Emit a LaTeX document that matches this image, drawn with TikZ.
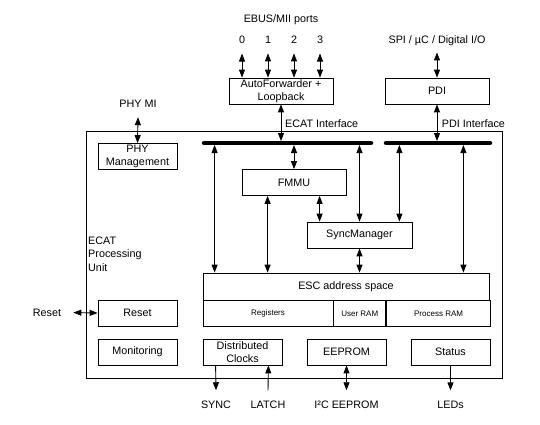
\documentclass[tikz,border=0pt]{standalone}
\usepackage{fontspec}
\setmainfont{Liberation Sans}
\usetikzlibrary{arrows.meta}
\tikzset{
  blk/.style={draw, line width=0.8pt, align=center, inner sep=0pt, font=\fontsize{10.8}{13.3}\selectfont},
  unit/.style={blk, minimum width=79pt, minimum height=26pt},
  wide/.style={blk, minimum width=104pt, minimum height=26pt},
  memblk/.style={blk, minimum height=26pt, font=\fontsize{8}{9.6}\selectfont},
  lab/.style={font=\fontsize{10.8}{13.3}\selectfont, inner sep=1pt},
  bus/.style={line width=4.5pt, line cap=round},
  dbl/.style={line width=0.9pt, {Triangle[length=8pt,width=6pt]}-{Triangle[length=8pt,width=6pt]}},
  sgl/.style={line width=0.9pt, -{Triangle[length=8pt,width=6pt]}},
}
\begin{document}
\begin{tikzpicture}[x=1pt,y=-1pt]
  \useasboundingbox (0,0) rectangle (540,424);
  % processing unit frame
  \node[draw, line width=0.8pt, minimum width=416pt, minimum height=247pt] (epu) at (294,254.5) {};
  \node[lab, anchor=west, align=left] (epulab) at (87,254) {ECAT\\Processing\\Unit};

  % internal buses
  \coordinate (ecatL) at (204,143);
  \coordinate (ecatR) at (371,143);
  \coordinate (pdiL) at (386,143);
  \coordinate (pdiR) at (490,143);
  \draw[bus] (ecatL) -- (ecatR);
  \draw[bus] (pdiL) -- (pdiR);
  \coordinate (ecatT) at ([yshift=2pt]ecatL);
  \coordinate (ecatB) at ([yshift=-2pt]ecatL);
  \coordinate (pdiT) at ([yshift=2pt]pdiL);
  \coordinate (pdiB) at ([yshift=-2pt]pdiL);

  % ports and PDI on top
  \node[wide] (af) at (281,91) {AutoForwarder +\\Loopback};
  \node[wide] (pdi) at (437,91) {PDI};
  \node[lab, anchor=base] (ports) at (281,22.2) {EBUS/MII ports};
  \foreach \i/\x in {0/242,1/268,2/294,3/320} {
    \node[lab, anchor=base] (p\i) at (\x,43.2) {\i};
    \draw[dbl] ([yshift=-9pt]p\i.south) -- (p\i.south |- af.north);
  }
  \node[lab, anchor=base] (spi) at (437,43) {SPI / µC / Digital I/O};
  \draw[dbl] ([yshift=-6pt]spi.south) -- (pdi.north);
  \draw[dbl] (af.south) -- (af.south |- ecatT);
  \draw[dbl] (pdi.south) -- (pdi.south |- pdiT);
  \node[lab, anchor=base west] (ecatif) at (284,127.2) {ECAT Interface};
  \node[lab, anchor=base west] (pdiif) at (440.7,127.2) {PDI Interface};

  % PHY management
  \node[unit] (phy) at (137.5,156.5) {PHY\\Management};
  \node[lab, anchor=base] (phymi) at (138,107) {PHY MI};
  \draw[dbl] ([yshift=-9pt]phymi.south) -- (phy.north);

  % core blocks
  \node[wide] (fmmu) at (294,182.5) {FMMU};
  \node[wide, minimum width=105pt] (sm) at (359.5,235) {SyncManager};
  \node[blk, minimum width=286pt, minimum height=27pt] (addr) at (346,286.5) {ESC address space};
  \node[memblk, minimum width=130pt, anchor=north west] (reg) at (addr.south west) {Registers};
  \node[memblk, minimum width=52pt, anchor=north west] (uram) at (reg.north east) {User RAM};
  \node[memblk, minimum width=104pt, anchor=north west] (pram) at (uram.north east) {Process RAM};

  \draw[dbl] ([xshift=12pt]addr.north west) -- ([xshift=12pt]addr.north west |- ecatB);
  \draw[dbl] (fmmu.north) -- (fmmu.north |- ecatB);
  \draw[dbl] ([xshift=26pt]fmmu.south west) -- ([xshift=26pt]fmmu.south west |- addr.north);
  \draw[dbl] ([xshift=13pt]sm.north west |- fmmu.south) -- ([xshift=13pt]sm.north west);
  \draw[dbl] (sm.north) -- (sm.north |- ecatB);
  \draw[dbl] ([xshift=-13pt]sm.north east) -- ([xshift=-13pt]sm.north east |- pdiB);
  \draw[dbl] (sm.south) -- (sm.south |- addr.north);
  \draw[dbl] ([xshift=-26pt]addr.north east) -- ([xshift=-26pt]addr.north east |- pdiB);

  % lower row
  \node[unit] (rst) at (137.5,313) {Reset};
  \node[unit] (mon) at (137.5,352) {Monitoring};
  \node[unit] (dc) at (242.5,352) {Distributed\\Clocks};
  \node[unit] (eep) at (346.5,352) {EEPROM};
  \node[unit] (stat) at (450.5,352) {Status};

  \node[lab, anchor=base] (rstin) at (47,316.2) {Reset};
  \node[lab, anchor=base] (sync) at (216,408) {SYNC};
  \node[lab, anchor=base] (latch) at (268,408) {LATCH};
  \node[lab, anchor=base] (i2c) at (346.5,408) {I²C EEPROM};
  \node[lab, anchor=base] (leds) at (450.5,408) {LEDs};

  \draw[dbl] ([xshift=11pt]rstin.east) -- (rst.west);
  \draw[sgl] ([xshift=13pt]dc.south west) -- ([yshift=9pt]sync.north);
  \draw[sgl] ([yshift=9pt]latch.north) -- ([xshift=-14pt]dc.south east);
  \draw[dbl] (eep.south) -- ([yshift=9pt]i2c.north);
  \draw[sgl] (stat.south) -- ([yshift=9pt]leds.north);
\end{tikzpicture}
\end{document}
